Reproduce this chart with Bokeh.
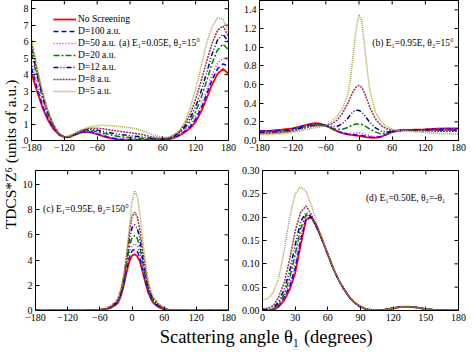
from math import pi
from bokeh.plotting import figure
from bokeh.layouts import row, column
from bokeh.models import Range1d, FixedTicker, Legend, LegendItem, Label, NumeralTickFormatter
from bokeh.embed import file_html
from bokeh.resources import INLINE
from bokeh.core.properties import value

FONT = "Liberation Serif"

series_names = ["No Screening", "D=100 a.u.", "D=50 a.u.", "D=20 a.u.", "D=12 a.u.", "D=8 a.u.", "D=5 a.u."]
series_colors = ["#ff0000", "#0000ff", "#ff00ff", "#008000", "#000080", "#993344", "#a8a040"]
series_dashes = ["solid", "5 3", "1 2", "6 2 2 2", "5 2 1 2 1 2", "2 1", "1 1"]
series_widths = [1.8, 1.5, 1.5, 1.5, 1.5, 1.5, 1.5]

# ---------------- panel (a): E1=0.05E, theta2=15 deg ----------------
xa = [-180, -170, -160, -150, -140, -130, -120, -110, -100, -90, -80, -70, -60, -50, -40, -30, -20, -10,
      0, 10, 20, 30, 40, 50, 60, 70, 80, 90, 100, 110, 120, 130, 140, 150, 160, 170, 180]
a_ns = [4.05, 3.0, 2.0, 1.25, 0.7, 0.35, 0.2, 0.22, 0.35, 0.48, 0.53, 0.48, 0.38, 0.27, 0.17, 0.1, 0.05, 0.03,
        0.02, 0.02, 0.02, 0.02, 0.03, 0.04, 0.05, 0.08, 0.15, 0.3, 0.5, 0.75, 1.15, 1.75, 2.55, 3.4, 4.05, 4.35, 4.05]
a_d100 = [4.4, 3.2, 2.15, 1.35, 0.75, 0.37, 0.2, 0.22, 0.36, 0.49, 0.54, 0.5, 0.41, 0.3, 0.2, 0.13, 0.08, 0.06,
          0.05, 0.04, 0.04, 0.04, 0.04, 0.05, 0.05, 0.09, 0.17, 0.33, 0.55, 0.85, 1.3, 1.95, 2.8, 3.7, 4.35, 4.65, 4.5]
a_d50 = [4.7, 3.45, 2.3, 1.45, 0.8, 0.38, 0.2, 0.23, 0.37, 0.5, 0.56, 0.53, 0.45, 0.35, 0.25, 0.17, 0.12, 0.09,
         0.08, 0.07, 0.06, 0.06, 0.06, 0.06, 0.06, 0.1, 0.19, 0.37, 0.62, 0.95, 1.45, 2.15, 3.05, 4.0, 4.7, 4.98, 4.9]
a_d20 = [5.3, 3.9, 2.6, 1.6, 0.88, 0.4, 0.21, 0.24, 0.39, 0.53, 0.61, 0.6, 0.54, 0.46, 0.38, 0.3, 0.24, 0.2,
         0.17, 0.15, 0.13, 0.11, 0.1, 0.09, 0.08, 0.12, 0.23, 0.44, 0.75, 1.15, 1.75, 2.6, 3.6, 4.7, 5.5, 5.85, 5.5]
a_d12 = [5.6, 4.1, 2.75, 1.7, 0.92, 0.42, 0.21, 0.25, 0.41, 0.56, 0.66, 0.67, 0.63, 0.56, 0.49, 0.42, 0.37, 0.33,
         0.29, 0.26, 0.22, 0.18, 0.14, 0.11, 0.1, 0.14, 0.26, 0.5, 0.85, 1.35, 2.05, 3.0, 4.1, 5.25, 6.1, 6.45, 6.0]
a_d8 = [5.9, 4.3, 2.85, 1.78, 0.96, 0.44, 0.22, 0.26, 0.43, 0.59, 0.71, 0.75, 0.75, 0.71, 0.66, 0.61, 0.56, 0.52,
        0.48, 0.43, 0.37, 0.3, 0.22, 0.16, 0.13, 0.16, 0.3, 0.55, 0.98, 1.6, 2.5, 3.6, 4.8, 5.9, 6.7, 6.95, 6.3]
a_d5 = [6.2, 4.5, 3.0, 1.85, 1.0, 0.45, 0.22, 0.28, 0.45, 0.62, 0.76, 0.86, 0.9, 0.92, 0.91, 0.88, 0.85, 0.82,
        0.78, 0.72, 0.62, 0.5, 0.37, 0.26, 0.2, 0.2, 0.35, 0.6, 1.1, 2.0, 3.1, 4.5, 5.9, 6.9, 7.45, 7.35, 6.6]

# ---------------- panel (b): E1=0.95E, theta2=15 deg ----------------
xb = [-180, -160, -140, -120, -100, -90, -80, -70, -60, -50, -40, -30, -20, -15, -10, -5, 0, 5, 10, 15, 20,
      30, 40, 50, 60, 70, 80, 90, 100, 120, 140, 160, 180]
b_ns = [0.1, 0.105, 0.115, 0.13, 0.16, 0.175, 0.185, 0.18, 0.16, 0.13, 0.1, 0.08, 0.065, 0.06, 0.057, 0.053, 0.05,
        0.045, 0.04, 0.034, 0.03, 0.028, 0.04, 0.065, 0.09, 0.105, 0.11, 0.112, 0.115, 0.12, 0.127, 0.13, 0.13]
b_d100 = [0.1, 0.102, 0.11, 0.125, 0.155, 0.17, 0.18, 0.178, 0.16, 0.13, 0.102, 0.082, 0.068, 0.064, 0.062, 0.06,
          0.058, 0.054, 0.048, 0.042, 0.037, 0.033, 0.043, 0.066, 0.09, 0.105, 0.11, 0.112, 0.114, 0.118, 0.124,
          0.127, 0.127]
b_d50 = [0.095, 0.098, 0.105, 0.12, 0.15, 0.165, 0.175, 0.175, 0.158, 0.13, 0.105, 0.088, 0.078, 0.077, 0.078,
         0.08, 0.08, 0.075, 0.067, 0.058, 0.05, 0.04, 0.046, 0.067, 0.09, 0.105, 0.11, 0.111, 0.112, 0.115, 0.12,
         0.122, 0.122]
b_d20 = [0.09, 0.093, 0.1, 0.115, 0.145, 0.16, 0.17, 0.17, 0.157, 0.135, 0.12, 0.12, 0.14, 0.155, 0.168, 0.177,
         0.178, 0.172, 0.158, 0.14, 0.12, 0.09, 0.07, 0.078, 0.095, 0.106, 0.11, 0.11, 0.11, 0.112, 0.115, 0.116,
         0.116]
b_d12 = [0.085, 0.088, 0.095, 0.11, 0.14, 0.155, 0.163, 0.165, 0.158, 0.148, 0.15, 0.18, 0.24, 0.28, 0.31, 0.325,
         0.322, 0.305, 0.27, 0.23, 0.19, 0.135, 0.1, 0.09, 0.1, 0.107, 0.11, 0.11, 0.109, 0.109, 0.11, 0.11, 0.11]
b_d8 = [0.075, 0.078, 0.085, 0.1, 0.13, 0.145, 0.155, 0.158, 0.16, 0.175, 0.215, 0.29, 0.4, 0.47, 0.53, 0.575,
        0.59, 0.57, 0.51, 0.43, 0.35, 0.23, 0.16, 0.125, 0.11, 0.108, 0.11, 0.108, 0.105, 0.102, 0.1, 0.1, 0.1]
b_d5 = [0.06, 0.063, 0.07, 0.085, 0.11, 0.125, 0.135, 0.145, 0.16, 0.2, 0.26, 0.34, 0.5, 0.68, 0.95, 1.2, 1.35,
        1.28, 1.02, 0.75, 0.52, 0.3, 0.2, 0.15, 0.12, 0.11, 0.105, 0.1, 0.095, 0.085, 0.077, 0.072, 0.07]

# ---------------- panel (c): E1=0.95E, theta2=150 deg ----------------
xc = [-180, -120, -80, -70, -60, -50, -40, -30, -25, -20, -15, -10, -5, 0, 5, 10, 15, 20, 25, 30, 35, 40, 50,
      60, 70, 80, 90, 120, 180]
c_ns = [0, 0, 0.005, 0.015, 0.04, 0.09, 0.2, 0.45, 0.7, 1.25, 2.05, 3.05, 3.9, 4.35, 4.45, 4.3, 3.85, 3.05, 2.2,
        1.45, 0.95, 0.6, 0.25, 0.1, 0.035, 0.01, 0, 0, 0]
c_d100 = [0, 0, 0.006, 0.017, 0.045, 0.1, 0.22, 0.48, 0.75, 1.32, 2.15, 3.25, 4.2, 4.72, 4.85, 4.68, 4.15, 3.25,
          2.35, 1.55, 1.0, 0.65, 0.28, 0.11, 0.038, 0.011, 0, 0, 0]
c_d50 = [0, 0, 0.006, 0.018, 0.048, 0.11, 0.24, 0.52, 0.8, 1.4, 2.3, 3.5, 4.55, 5.15, 5.3, 5.1, 4.5, 3.5, 2.5,
         1.65, 1.07, 0.7, 0.3, 0.12, 0.04, 0.012, 0, 0, 0]
c_d20 = [0, 0, 0.007, 0.02, 0.053, 0.12, 0.26, 0.56, 0.86, 1.5, 2.45, 3.8, 5.05, 5.75, 5.95, 5.7, 4.95, 3.8, 2.7,
         1.78, 1.15, 0.76, 0.34, 0.14, 0.045, 0.013, 0, 0, 0]
c_d12 = [0, 0, 0.008, 0.022, 0.06, 0.135, 0.29, 0.61, 0.94, 1.6, 2.6, 4.1, 5.65, 6.55, 6.8, 6.5, 5.6, 4.2, 2.95,
         1.95, 1.27, 0.85, 0.4, 0.16, 0.05, 0.015, 0, 0, 0]
c_d8 = [0, 0, 0.009, 0.025, 0.068, 0.15, 0.32, 0.67, 1.03, 1.7, 2.75, 4.3, 6.1, 7.45, 7.8, 7.4, 6.3, 4.7, 3.3,
        2.15, 1.4, 0.95, 0.47, 0.19, 0.06, 0.017, 0, 0, 0]
c_d5 = [0, 0, 0.01, 0.03, 0.08, 0.18, 0.38, 0.75, 1.15, 1.8, 2.9, 4.5, 6.6, 8.6, 9.5, 9.0, 7.6, 5.6, 3.9, 2.4,
        1.55, 1.05, 0.55, 0.22, 0.07, 0.02, 0, 0, 0]

# ---------------- panel (d): E1=0.50E, theta2=-theta1 ----------------
xd = [0, 5, 10, 15, 20, 25, 30, 35, 40, 45, 50, 55, 60, 65, 70, 75, 80, 85, 90, 95, 100, 105, 110, 115, 120, 125,
      130, 135, 140, 145, 150, 155, 160, 165, 170, 175, 180]
d_ns = [0, 0, 0.001, 0.008, 0.022, 0.045, 0.08, 0.14, 0.195, 0.199, 0.18, 0.15, 0.12, 0.09, 0.065, 0.045, 0.028,
        0.016, 0.008, 0.003, 0.001, 0.0005, 0.001, 0.003, 0.005, 0.007, 0.008, 0.008, 0.007, 0.005, 0.003, 0.002,
        0.001, 0.0005, 0, 0, 0]
d_d100 = [0, 0, 0.001, 0.011, 0.028, 0.052, 0.09, 0.15, 0.197, 0.2, 0.18, 0.15, 0.12, 0.09, 0.065, 0.045, 0.028,
          0.016, 0.008, 0.003, 0.001, 0.0005, 0.001, 0.003, 0.005, 0.007, 0.008, 0.008, 0.007, 0.005, 0.003, 0.002,
          0.001, 0.0005, 0, 0, 0]
d_d50 = [0, 0, 0.002, 0.012, 0.03, 0.058, 0.1, 0.16, 0.2, 0.201, 0.179, 0.15, 0.12, 0.09, 0.065, 0.045, 0.028,
         0.016, 0.008, 0.003, 0.001, 0.0005, 0.001, 0.003, 0.005, 0.007, 0.008, 0.008, 0.007, 0.005, 0.003, 0.002,
         0.001, 0.0005, 0, 0, 0]
d_d20 = [0.001, 0.001, 0.003, 0.015, 0.035, 0.07, 0.12, 0.175, 0.205, 0.2, 0.177, 0.15, 0.12, 0.09, 0.065, 0.045,
         0.028, 0.016, 0.008, 0.003, 0.001, 0.0005, 0.001, 0.003, 0.005, 0.007, 0.008, 0.008, 0.007, 0.005, 0.003,
         0.002, 0.001, 0.0005, 0, 0, 0]
d_d12 = [0.002, 0.002, 0.005, 0.02, 0.045, 0.085, 0.14, 0.19, 0.21, 0.2, 0.176, 0.15, 0.12, 0.09, 0.065, 0.045,
         0.028, 0.016, 0.008, 0.003, 0.001, 0.0005, 0.001, 0.003, 0.005, 0.007, 0.008, 0.008, 0.007, 0.005, 0.003,
         0.002, 0.001, 0.0005, 0, 0, 0]
d_d8 = [0.004, 0.005, 0.01, 0.03, 0.06, 0.11, 0.17, 0.21, 0.224, 0.205, 0.177, 0.151, 0.12, 0.09, 0.065, 0.045,
        0.028, 0.016, 0.008, 0.003, 0.001, 0.0005, 0.001, 0.003, 0.005, 0.007, 0.008, 0.008, 0.007, 0.005, 0.003,
        0.002, 0.001, 0.0005, 0, 0, 0]
d_d5 = [0.024, 0.025, 0.04, 0.07, 0.13, 0.2, 0.25, 0.265, 0.255, 0.225, 0.185, 0.155, 0.122, 0.091, 0.066, 0.046,
        0.029, 0.017, 0.009, 0.004, 0.002, 0.001, 0.001, 0.003, 0.005, 0.007, 0.008, 0.008, 0.007, 0.005, 0.003,
        0.002, 0.001, 0.0005, 0, 0, 0]

x_ticks_full = [-180, -120, -60, 0, 60, 120, 180]
x_ticks_d = [0, 30, 60, 90, 120, 150, 180]
y_ticks_a = [0, 1, 2, 3, 4, 5, 6, 7, 8]
y_ticks_b = [0.0, 0.2, 0.4, 0.6, 0.8, 1.0, 1.2, 1.4]
y_ticks_c = [0, 2, 4, 6, 8, 10]
y_ticks_d = [0.00, 0.05, 0.10, 0.15, 0.20, 0.25, 0.30]

panel_texts = ["(a) E\u2081=0.05E,  \u03b8\u2082=15\u00b0", "(b) E\u2081=0.95E,  \u03b8\u2082=15\u00b0",
               "(c) E\u2081=0.95E,  \u03b8\u2082=150\u00b0", "(d) E\u2081=0.50E,  \u03b8\u2082=-\u03b8\u2081"]
y_title = "TDCS*Z\u2076 (units of a.u.)"
x_title = "Scattering angle  \u03b8\u2081 (degrees)"

FRAME_H = 140


def style_axis(ax, ticks, fmt=None):
    ax.ticker = FixedTicker(ticks=ticks)
    ax.axis_line_color = "black"
    ax.axis_line_width = 1
    ax.major_tick_in = 4
    ax.major_tick_out = 0
    ax.major_tick_line_color = "black"
    ax.minor_tick_in = 0
    ax.minor_tick_out = 0
    if fmt is not None:
        ax.formatter = NumeralTickFormatter(format=fmt)
    ax.major_label_text_font = FONT
    ax.major_label_text_font_size = "10px"
    ax.major_label_text_color = "black"
    ax.major_label_standoff = 3


def make_panel(xs, ys_list, xr, yr, xticks, yticks, yfmt, bl, br, bt, bb, frame_w):
    p = figure(width=bl + frame_w + br, height=bt + FRAME_H + bb,
               x_range=Range1d(*xr), y_range=Range1d(*yr),
               output_backend="svg", toolbar_location=None,
               min_border_left=bl, min_border_right=br, min_border_top=bt, min_border_bottom=bb)
    p.grid.visible = False
    p.outline_line_color = "black"
    p.outline_line_width = 1
    p.background_fill_color = "white"
    p.border_fill_color = "white"
    style_axis(p.xaxis[0], xticks)
    style_axis(p.yaxis[0], yticks, yfmt)
    # inward tick marks on the top and right edges (half of each dash is clipped by the frame)
    p.scatter(xticks, [yr[1]] * len(xticks), marker="dash", size=8, angle=pi / 2,
              line_color="black", line_width=1)
    p.scatter([xr[1]] * len(yticks), yticks, marker="dash", size=8,
              line_color="black", line_width=1)
    rends = []
    for ys, col, dash, lw in zip(ys_list, series_colors, series_dashes, series_widths):
        r = p.line(xs, ys, line_color=col, line_width=lw, line_dash=dash)
        rends.append(r)
    return p, rends


pa, ra = make_panel(xa, [a_ns, a_d100, a_d50, a_d20, a_d12, a_d8, a_d5], (-180, 180), (0, 8.5),
                    x_ticks_full, y_ticks_a, "0", 12, 10, 0, 20, 197)
pb, rb = make_panel(xb, [b_ns, b_d100, b_d50, b_d20, b_d12, b_d8, b_d5], (-180, 180), (0, 1.5),
                    x_ticks_full, y_ticks_b, "0.0", 21, 8, 0, 20, 199)
pc, rc = make_panel(xc, [c_ns, c_d100, c_d50, c_d20, c_d12, c_d8, c_d5], (-180, 180), (0, 11.1),
                    x_ticks_full, y_ticks_c, "0", 12, 10, 10, 16, 197)
pd, rd = make_panel(xd, [d_ns, d_d100, d_d50, d_d20, d_d12, d_d8, d_d5], (0, 180), (0, 0.30),
                    x_ticks_d, y_ticks_d, "0.00", 21, 8, 10, 16, 199)

legend = Legend(items=[LegendItem(label=n, renderers=[r]) for n, r in zip(series_names, ra)],
                location=(22, 43), padding=0, margin=0, spacing=0,
                glyph_width=23, glyph_height=12, label_height=12, label_standoff=2,
                label_text_font=FONT, label_text_font_size="9.5px", label_text_color="black",
                border_line_color=None, background_fill_alpha=0)
pa.add_layout(legend, "center")

for p, (tx, ty), txt in zip([pa, pb, pc, pd], [(-20, 5.9), (24, 1.044), (-166, 8.06), (95, 0.242)], panel_texts):
    p.add_layout(Label(x=tx, y=ty, text=txt, text_font=FONT, text_font_size="9.5px",
                       text_color="black", text_baseline="middle", text_align="left"))

# shared axis titles
ylab = figure(width=19, height=348, x_range=Range1d(0, 19), y_range=Range1d(0, 348),
              min_border=0, output_backend="svg", toolbar_location=None,
              x_axis_type=None, y_axis_type=None)
ylab.outline_line_color = None
ylab.text(x=[9.5], y=[194], text=[y_title], angle=pi / 2, text_align="center", text_baseline="middle",
          text_font=value(FONT), text_font_size="15.5px", text_color="black")

xlab = figure(width=447, height=22, x_range=Range1d(0, 447), y_range=Range1d(0, 22),
              min_border=0, output_backend="svg", toolbar_location=None,
              x_axis_type=None, y_axis_type=None)
xlab.outline_line_color = None
xlab.text(x=[249], y=[11.5], text=[x_title], text_align="center", text_baseline="middle",
          text_font=value(FONT), text_font_size="18.5px", text_color="black")

layout = row(ylab, column(row(pa, pb), row(pc, pd), xlab))

open("out.html", "w").write(file_html(layout, INLINE))
